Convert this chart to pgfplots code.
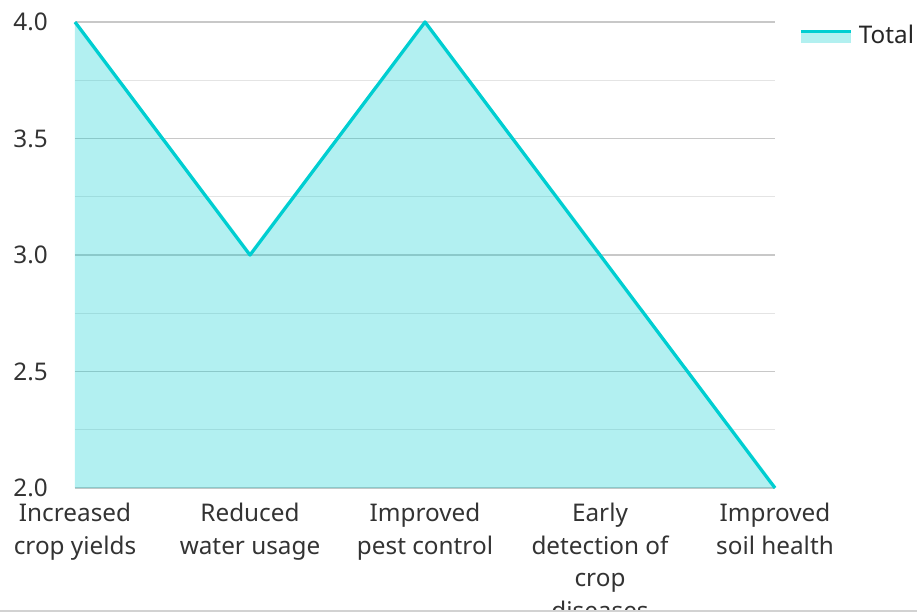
\documentclass[border=0pt]{standalone}
\usepackage{pgfplots}
\pgfplotsset{compat=1.18}
\usepackage{fontspec}
\setmainfont{Noto Sans}
\definecolor{tq}{RGB}{0,206,209}
\definecolor{tqlight}{RGB}{178,240,240}
\definecolor{gridmaj}{RGB}{200,200,200}
\definecolor{gridmin}{RGB}{228,228,228}
\definecolor{txt}{RGB}{51,51,51}
\begin{document}
\fontsize{24.3}{32.5}\selectfont
\begin{tikzpicture}
\path[use as bounding box] (-75pt,-126pt) rectangle (842pt,488pt);
\begin{scope}
\clip (-75pt,-122pt) rectangle (842pt,488pt);
\begin{axis}[
  at={(0pt,0pt)}, anchor=south west,
  scale only axis, width=700pt, height=466pt,
  xmin=0, xmax=4, ymin=2, ymax=4,
  xtick={0,1,2,3,4},
  xticklabels={{Increased\\crop yields},{Reduced\\water usage},{Improved\\pest control},{Early\\detection of\\crop\\diseases},{Improved\\soil health}},
  ytick={2,2.5,3,3.5,4},
  minor ytick={2.25,2.75,3.25,3.75},
  /pgf/number format/assume math mode=true,
  yticklabel style={/pgf/number format/.cd, fixed, fixed zerofill, precision=1, /tikz/.cd, text=txt, anchor=east, inner sep=0pt, xshift=-27pt},
  xticklabel style={align=center, text=txt, anchor=north, inner sep=0pt, yshift=-15pt},
  ymajorgrids, yminorgrids,
  major grid style={gridmaj, line width=1.2pt},
  minor grid style={gridmin, line width=1.2pt},
  axis line style={draw=none},
  tick style={draw=none},
  clip=false,
  legend style={at={(rel axis cs:1,1)}, anchor=north west, xshift=24pt, yshift=-1pt, draw=none, fill=none, inner sep=0pt, text=black!85, nodes={inner sep=2pt}},
  legend cell align=left,
]
\addplot[fill=tq, fill opacity=0.3, draw=none, forget plot] coordinates {(0,4)(1,3)(2,4)(3,3)(4,2)} \closedcycle;
\addplot[tq, line width=3.3pt, line join=round,
  legend image code/.code={
    \path[fill=tqlight, draw=none] (0pt,-7pt) rectangle (50pt,5pt);
    \path[draw=tq, line width=3.3pt] (0pt,5pt) -- (50pt,5pt);
    \path[draw=none, fill=none] (0pt,0pt) -- (56pt,0pt);}]
  coordinates {(0,4)(1,3)(2,4)(3,3)(4,2)};
\addlegendentry{Total}
\end{axis}
\end{scope}
\draw[gray!35, line width=1.5pt] (-75pt,-123pt) -- (842pt,-123pt);
\end{tikzpicture}
\end{document}
